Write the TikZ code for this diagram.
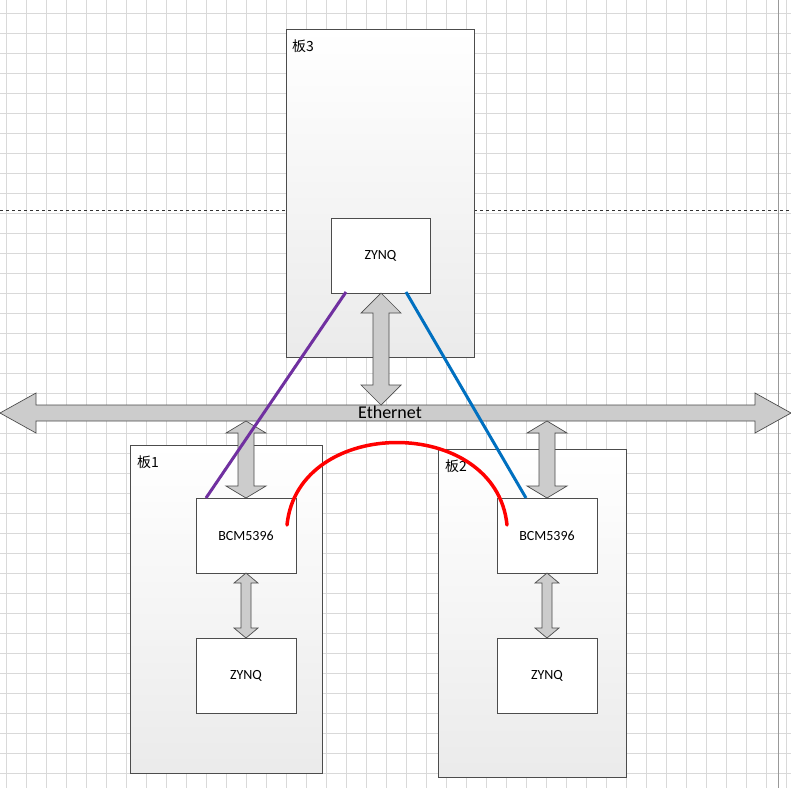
\documentclass[tikz,border=0pt]{standalone}
\usepackage{fontspec}
\setmainfont{Carlito}
\newfontfamily\cjk{Noto Sans CJK SC}
\begin{document}
\newcommand\vda[6]{% x, ytop, ybot, shaft half, head half, head len
\filldraw[arr] (#1-#4,#2+#6) -- (#1-#5,#2+#6) -- (#1,#2) -- (#1+#5,#2+#6) -- (#1+#4,#2+#6)
 -- (#1+#4,#3-#6) -- (#1+#5,#3-#6) -- (#1,#3) -- (#1-#5,#3-#6) -- (#1-#4,#3-#6) -- cycle;}
\begin{tikzpicture}[x=1pt,y=-1pt,
 board/.style={draw=black!70,top color=white,bottom color=black!8,line width=0.7pt},
 box/.style={draw=black!70,fill=white,line width=0.7pt},
 txt/.style={font=\fontsize{14}{16}\selectfont},
 arr/.style={fill=black!20,draw=black!70,line width=0.7pt},
 lbl/.style={anchor=west,font=\cjk\fontsize{14}{16}\selectfont,inner sep=0pt}]
\useasboundingbox (0,0) rectangle (791,788);
\fill[white] (0,0) rectangle (791,788);
\foreach \i in {0,...,39}{\draw[black!15,line width=0.7pt] (6+20*\i,0) -- (6+20*\i,788);}
\foreach \i in {0,...,39}{\draw[black!15,line width=0.7pt] (0,13+20*\i) -- (791,13+20*\i);}
\draw[black!40,line width=1pt] (778,0) -- (778,788);
\draw[dashed,black!80,line width=0.6pt] (0,210) -- (791,210);
% board 3
\draw[board] (286,29) rectangle (474,357);
\node[lbl] (b3) at (292,46) {板3};
\draw[box] (331,218) rectangle (430,293);
\node[txt] (z3) at (380.5,255.5) {ZYNQ};
% ethernet
\filldraw[arr] (0,413) -- (36,393) -- (36,405) -- (755,405) -- (755,393) -- (791,413) -- (755,433) -- (755,421) -- (36,421) -- (36,433) -- cycle;
\node[font=\fontsize{18}{20}\selectfont] (eth) at (390,412) {Ethernet};
\vda{381}{293}{405}{8}{20}{20}
% board1
\draw[board] (130,445) rectangle (322,773);
\node[lbl] (b1) at (137,462) {板1};
\draw[box] (196,498) rectangle (296,573);
\node[txt] (m1) at (246,535.5) {BCM5396};
\draw[box] (196,638) rectangle (296,713);
\node[txt] (y1) at (246,675.5) {ZYNQ};
\vda{246}{421}{498}{8}{20}{12}
\vda{246}{573}{638}{5}{12}{10}
% board2
\draw[board] (438,449) rectangle (626,777);
\node[lbl] (b2) at (445,466) {板2};
\draw[box] (497,498) rectangle (597,573);
\node[txt] (m2) at (547,535.5) {BCM5396};
\draw[box] (497,638) rectangle (597,713);
\node[txt] (y2) at (547,675.5) {ZYNQ};
\vda{547}{421}{498}{8}{20}{12}
\vda{547}{573}{638}{5}{12}{10}
% lines
\coordinate (p1) at (346,292); \coordinate (p2) at (206,498);
\coordinate (q1) at (406,292); \coordinate (q2) at (526,498);
\draw[line width=3pt,color={rgb,255:red,112;green,48;blue,160}] (p1) -- (p2);
\draw[line width=3pt,color={rgb,255:red,0;green,112;blue,192}] (q1) -- (q2);
\coordinate (r1) at (287,525); \coordinate (r2) at (507,525);
\draw[line width=3.5pt,red,line cap=round] (r1) .. controls (298,415) and (496,415) .. (r2);
\end{tikzpicture}
\end{document}
